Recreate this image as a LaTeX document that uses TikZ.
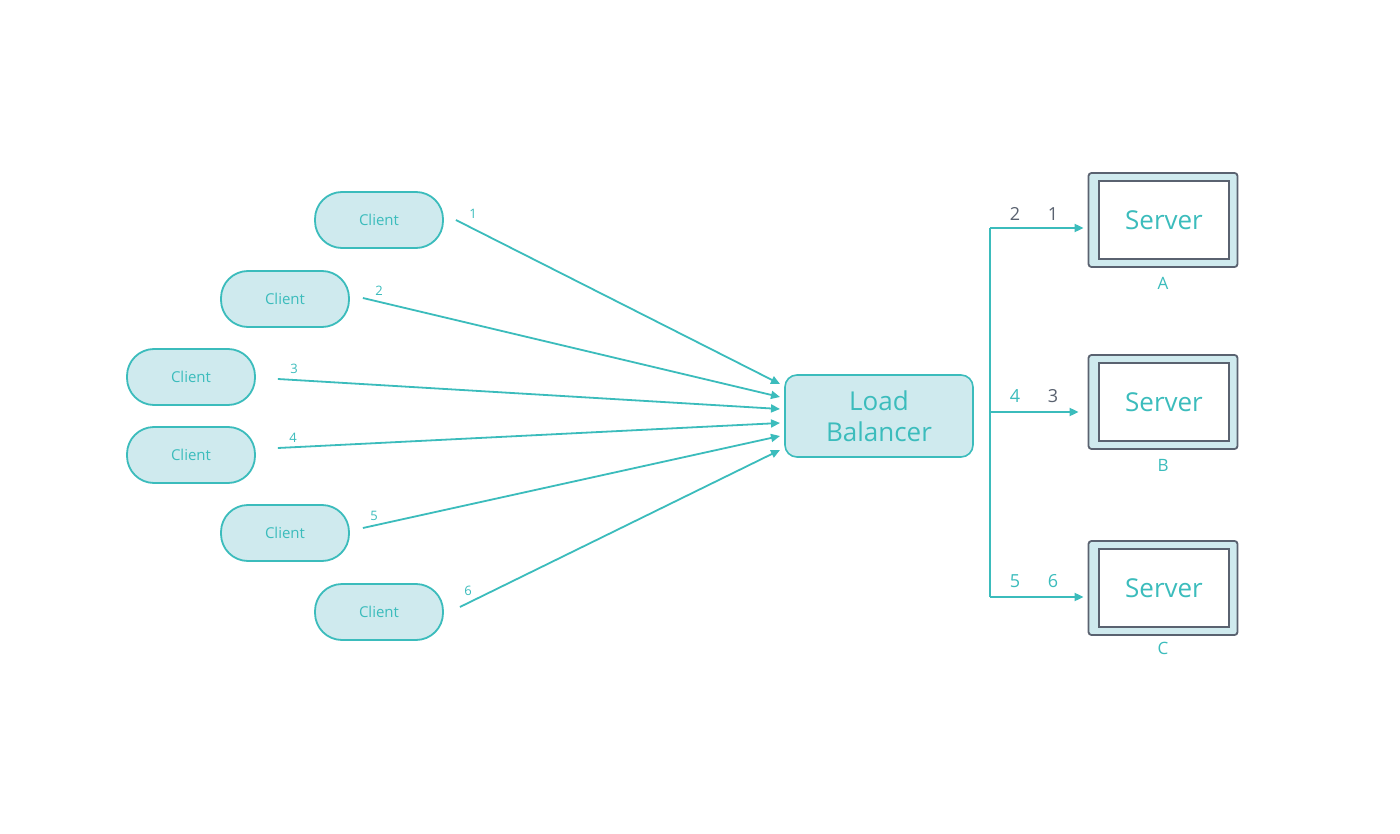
\documentclass[tikz,border=0pt]{standalone}
\usepackage{fontspec}
\setmainfont{Open Sans}
\usetikzlibrary{arrows.meta}
\definecolor{teal1}{HTML}{3BBCBC}
\definecolor{lfill}{HTML}{CFEAEE}
\definecolor{dgray}{HTML}{5A6270}
\tikzset{
  client/.style={draw=teal1, line width=1.8pt, fill=lfill, rounded corners=27pt,
    minimum width=128pt, minimum height=56pt, text=teal1, font=\fontsize{15}{18}\selectfont},
  lbbox/.style={draw=teal1, line width=1.6pt, fill=lfill, rounded corners=12pt,
    minimum width=188pt, minimum height=82pt, text=teal1, align=center,
    font=\fontsize{26}{31}\selectfont},
  srvout/.style={draw=dgray, line width=1.8pt, fill=lfill, rounded corners=3pt,
    minimum width=149pt, minimum height=94pt},
  srvin/.style={draw=dgray, line width=1.8pt, fill=white,
    minimum width=130pt, minimum height=78pt, text=teal1, font=\fontsize{26}{31}\selectfont},
  arr/.style={draw=teal1, line width=1.8pt, -{Triangle[length=9pt,width=8pt]}},
  trunk/.style={draw=teal1, line width=1.8pt},
  lnum/.style={text=teal1, font=\fontsize{13}{15}\selectfont},
  rnum/.style={font=\fontsize{18}{21}\selectfont},
  slabel/.style={text=teal1, font=\fontsize{17}{20}\selectfont}
}
\begin{document}
\begin{tikzpicture}[x=1pt,y=-1pt]
\useasboundingbox[fill=white] (0,0) rectangle (1400,834);
% clients
\node[client] (c1) at (379,220) {Client};
\node[client] (c2) at (285,299) {Client};
\node[client] (c3) at (191,377) {Client};
\node[client] (c4) at (191,455) {Client};
\node[client] (c5) at (285,533) {Client};
\node[client] (c6) at (379,612) {Client};
% load balancer
\node[lbbox] (lb) at (879,416) {Load\\Balancer};
% servers
\node[srvout] (sA) at (1163,220) {};
\node[srvin] (iA) at (1164,220) {Server};
\node[slabel] (lA) at (1163,283) {A};
\node[srvout] (sB) at (1163,402) {};
\node[srvin] (iB) at (1164,402) {Server};
\node[slabel] (lB) at (1163,465) {B};
\node[srvout] (sC) at (1163,588) {};
\node[srvin] (iC) at (1164,588) {Server};
\node[slabel] (lC) at (1163,648) {C};
% client arrows
\coordinate (e1) at (780,384);
\coordinate (e2) at (780,397);
\coordinate (e3) at (780,409);
\coordinate (e4) at (780,423);
\coordinate (e5) at (780,436);
\coordinate (e6) at (780,450);
\draw[arr] ([xshift=12pt]c1.east) -- (e1);
\draw[arr] ([xshift=13pt,yshift=1pt]c2.east) -- (e2);
\draw[arr] ([xshift=22pt,yshift=-2pt]c3.east) -- (e3);
\draw[arr] ([xshift=22pt,yshift=7pt]c4.east) -- (e4);
\draw[arr] ([xshift=13pt,yshift=5pt]c5.east) -- (e5);
\draw[arr] ([xshift=16pt,yshift=5pt]c6.east) -- (e6);
\node[lnum] (n1) at (473,214) {1};
\node[lnum] (n2) at (379,291) {2};
\node[lnum] (n3) at (294,369) {3};
\node[lnum] (n4) at (293,438) {4};
\node[lnum] (n5) at (374,516) {5};
\node[lnum] (n6) at (468,591) {6};
% right side distribution
\coordinate (tA) at (990,228);
\coordinate (tB) at (990,412);
\coordinate (tC) at (990,597);
\draw[trunk] (tA) -- (tC);
\draw[arr] (tA) -- ([xshift=-4pt]sA.west |- tA);
\draw[arr] (tB) -- ([xshift=-9pt]sB.west |- tB);
\draw[arr] (tC) -- ([xshift=-4pt]sC.west |- tC);
\node[rnum, text=dgray] (a2) at (1015,214) {2};
\node[rnum, text=dgray] (a1) at (1053,214) {1};
\node[rnum, text=teal1] (b4) at (1015,396) {4};
\node[rnum, text=dgray] (b3) at (1053,396) {3};
\node[rnum, text=teal1] (c5n) at (1015,581) {5};
\node[rnum, text=teal1] (c6n) at (1053,581) {6};
\end{tikzpicture}
\end{document}
